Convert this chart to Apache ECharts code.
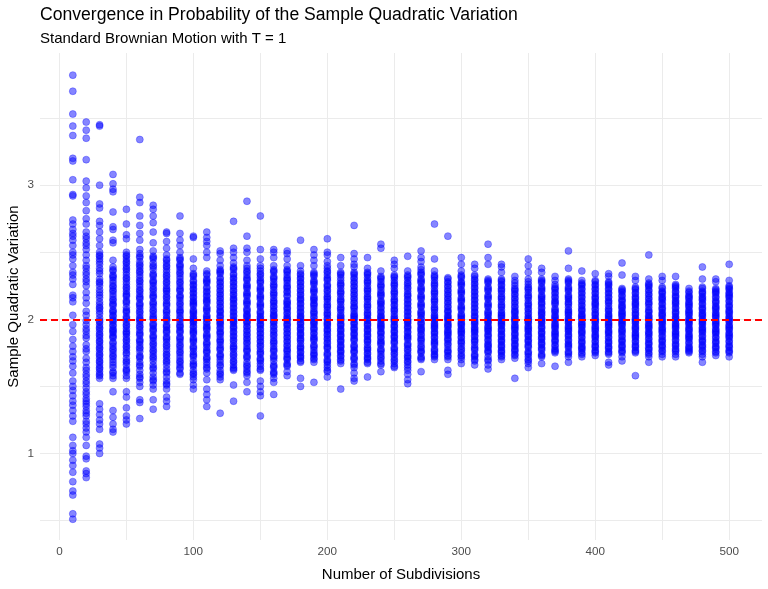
<!DOCTYPE html>
<html>
<head>
<meta charset="utf-8">
<script src="https://cdn.jsdelivr.net/npm/echarts@6/dist/echarts.min.js"></script>
<style>
  html, body { margin: 0; padding: 0; background: #fff; }
  #main { width: 768px; height: 589px; }
</style>
</head>
<body>
<div id="main"></div>
<script type="text/javascript">
    // values, one array per number of subdivisions
    var subdivisions = [10, 20, 30, 40, 50, 60, 70, 80, 90, 100, 110, 120, 130, 140, 150, 160, 170, 180, 190, 200,
        210, 220, 230, 240, 250, 260, 270, 280, 290, 300, 310, 320, 330, 340, 350, 360, 370, 380, 390, 400,
        410, 420, 430, 440, 450, 460, 470, 480, 490, 500];

    var qv10 = [3.82,3.70,3.53,3.44,3.37,3.20,3.18,3.04,2.93,2.92,2.74,2.71,2.67,2.64,2.62,2.59,2.55,2.50,2.48,2.45,2.40,2.35,2.33,2.30,2.26,2.18,2.16,2.13,2.03,1.96,1.91,1.85,1.80,1.76,1.72,1.69,1.65,1.60,1.54,1.50,1.47,1.43,1.39,1.36,1.32,1.28,1.24,1.12,1.06,1.02,1.00,0.95,0.91,0.86,0.79,0.72,0.69,0.55,0.51];
    var qv20 = [3.47,3.41,3.35,3.19,3.03,2.98,2.92,2.87,2.81,2.75,2.71,2.65,2.60,2.57,2.55,2.48,2.44,2.40,2.38,2.35,2.30,2.25,2.20,2.16,2.06,2.03,1.96,1.93,1.91,1.86,1.81,1.76,1.71,1.64,1.62,1.59,1.54,1.52,1.49,1.44,1.41,1.39,1.35,1.32,1.30,1.28,1.24,1.22,1.19,1.16,1.12,1.06,0.98,0.96,0.87,0.85,0.82,2.62,2.52,2.33,2.28,2.12,1.99,1.88,1.78,1.68,1.57,1.46,1.37];
    var qv30 = [3.45,3.44,3.00,2.86,2.83,2.73,2.70,2.65,2.60,2.55,2.50,2.48,2.45,2.43,2.38,2.34,2.30,2.28,2.25,2.22,2.20,2.16,2.13,2.11,2.08,2.06,2.01,1.98,1.96,1.93,1.91,1.88,1.86,1.83,1.81,1.78,1.76,1.73,1.71,1.68,1.66,1.63,1.61,1.58,1.56,1.37,1.33,1.29,1.25,1.22,1.18,1.07,1.04,1.00,2.47,2.41,2.36,2.27,2.18,2.09,2.04,1.99,1.94,1.89,1.84,1.79,1.74,1.69,1.64,1.59];
    var qv40 = [3.08,3.01,2.97,2.95,2.80,2.69,2.67,2.59,2.57,2.44,2.39,2.36,2.33,2.31,2.29,2.25,2.24,2.21,2.19,2.15,2.14,2.12,2.10,2.07,2.05,2.03,2.02,1.99,1.98,1.95,1.93,1.91,1.90,1.88,1.86,1.82,1.80,1.77,1.75,1.73,1.70,1.68,1.64,1.61,1.58,1.56,1.46,1.32,1.27,1.22,1.18,1.16,2.37,2.32,2.27,2.22,2.17,2.11,2.06,2.00,1.96,1.92,1.87,1.83,1.78,1.72,1.66,1.60];
    var qv50 = [2.82,2.71,2.63,2.60,2.50,2.47,2.45,2.42,2.40,2.37,2.35,2.33,2.30,2.28,2.26,2.23,2.21,2.19,2.17,2.14,2.12,2.09,2.07,2.05,2.02,2.00,1.98,1.96,1.93,1.91,1.89,1.87,1.84,1.82,1.79,1.77,1.74,1.71,1.69,1.66,1.63,1.61,1.58,1.56,1.46,1.42,1.34,1.28,1.25,1.22,2.48,2.43,2.38,2.31,2.24,2.18,2.13,2.06,2.01,1.95,1.90,1.85,1.80,1.75,1.68,1.62];
    var qv60 = [3.34,2.91,2.87,2.77,2.70,2.64,2.59,2.52,2.49,2.46,2.43,2.40,2.38,2.35,2.33,2.31,2.28,2.26,2.24,2.21,2.19,2.17,2.15,2.12,2.10,2.08,2.05,2.03,2.01,1.99,1.97,1.94,1.92,1.90,1.88,1.85,1.83,1.81,1.78,1.76,1.73,1.71,1.68,1.65,1.62,1.59,1.56,1.53,1.50,1.40,1.38,1.26,2.47,2.41,2.36,2.29,2.22,2.16,2.11,2.06,2.00,1.95,1.89,1.84,1.79,1.72,1.66,1.57];
    var qv70 = [2.85,2.82,2.77,2.72,2.65,2.57,2.51,2.47,2.45,2.42,2.39,2.37,2.34,2.32,2.29,2.27,2.25,2.22,2.20,2.18,2.16,2.13,2.11,2.09,2.06,2.04,2.02,2.00,1.97,1.95,1.93,1.91,1.88,1.86,1.84,1.81,1.79,1.76,1.74,1.71,1.69,1.66,1.63,1.60,1.57,1.54,1.51,1.48,1.40,1.33,2.46,2.40,2.33,2.28,2.23,2.17,2.12,2.07,2.01,1.96,1.92,1.87,1.82,1.77,1.72,1.64,1.55];
    var qv80 = [2.65,2.64,2.58,2.53,2.48,2.44,2.42,2.39,2.37,2.35,2.32,2.30,2.28,2.25,2.23,2.21,2.19,2.16,2.14,2.12,2.10,2.07,2.05,2.03,2.01,1.99,1.96,1.94,1.92,1.90,1.87,1.85,1.83,1.81,1.78,1.76,1.73,1.71,1.68,1.66,1.63,1.60,1.57,1.54,1.51,1.48,1.42,1.39,1.35,2.45,2.40,2.33,2.27,2.22,2.17,2.11,2.06,2.00,1.95,1.91,1.86,1.80,1.74,1.69,1.61,1.52];
    var qv90 = [2.77,2.64,2.59,2.55,2.50,2.46,2.44,2.41,2.39,2.37,2.34,2.32,2.30,2.27,2.25,2.23,2.21,2.18,2.16,2.14,2.12,2.09,2.07,2.05,2.03,2.01,1.98,1.96,1.94,1.92,1.90,1.87,1.85,1.83,1.80,1.78,1.76,1.73,1.71,1.68,1.66,1.63,1.60,1.59,2.45,2.40,2.35,2.28,2.22,2.17,2.11,2.06,2.00,1.95,1.91,1.86,1.81,1.75,1.69,1.64];
    var qv100 = [2.62,2.61,2.45,2.38,2.33,2.32,2.29,2.26,2.25,2.23,2.20,2.19,2.17,2.14,2.13,2.11,2.10,2.07,2.05,2.04,2.01,2.00,1.98,1.97,1.95,1.92,1.91,1.89,1.86,1.85,1.83,1.80,1.79,1.76,1.74,1.72,1.69,1.67,1.65,1.62,1.59,1.57,1.55,1.51,1.48,2.34,2.28,2.22,2.16,2.12,2.06,2.02,1.99,1.94,1.90,1.84,1.78,1.73,1.66,1.60];
    var qv110 = [2.65,2.61,2.58,2.55,2.50,2.46,2.36,2.33,2.30,2.28,2.27,2.24,2.21,2.20,2.18,2.15,2.14,2.12,2.09,2.08,2.06,2.03,2.02,2.00,1.98,1.95,1.94,1.92,1.89,1.88,1.86,1.83,1.82,1.79,1.77,1.75,1.72,1.71,1.68,1.66,1.63,1.60,1.55,1.48,1.44,1.40,1.35,2.34,2.29,2.23,2.17,2.13,2.07,2.01,1.97,1.93,1.87,1.81,1.76,1.70,1.64];
    var qv120 = [2.51,2.49,2.44,2.40,2.37,2.35,2.34,2.31,2.28,2.27,2.25,2.22,2.21,2.19,2.16,2.15,2.13,2.10,2.09,2.07,2.05,2.03,2.01,1.99,1.97,1.96,1.93,1.91,1.90,1.87,1.85,1.84,1.81,1.79,1.77,1.74,1.73,1.70,1.68,1.65,1.62,1.60,1.57,1.55,1.30,2.36,2.30,2.24,2.18,2.12,2.06,2.02,1.98,1.94,1.89,1.83,1.78,1.72,1.66,1.59];
    var qv130 = [2.73,2.53,2.50,2.46,2.42,2.39,2.37,2.34,2.33,2.30,2.28,2.27,2.24,2.22,2.21,2.18,2.16,2.15,2.12,2.11,2.09,2.06,2.05,2.03,2.00,1.99,1.97,1.94,1.93,1.91,1.88,1.87,1.85,1.82,1.80,1.78,1.76,1.73,1.71,1.69,1.66,1.64,1.62,1.51,1.39,2.38,2.31,2.25,2.19,2.14,2.08,2.02,1.98,1.95,1.90,1.84,1.79,1.74,1.68,1.63];
    var qv140 = [2.88,2.62,2.53,2.50,2.44,2.40,2.38,2.35,2.33,2.31,2.29,2.26,2.25,2.23,2.20,2.19,2.17,2.14,2.13,2.11,2.08,2.07,2.04,2.03,2.01,1.98,1.97,1.95,1.92,1.91,1.89,1.86,1.85,1.83,1.80,1.78,1.76,1.73,1.71,1.68,1.66,1.63,1.61,1.58,1.53,1.46,2.36,2.30,2.24,2.18,2.12,2.06,2.02,1.99,1.94,1.88,1.82,1.77,1.72,1.65,1.60];
    var qv150 = [2.77,2.52,2.45,2.40,2.38,2.36,2.33,2.31,2.29,2.27,2.24,2.23,2.21,2.18,2.17,2.15,2.12,2.11,2.09,2.06,2.05,2.02,2.01,1.99,1.96,1.95,1.93,1.90,1.89,1.87,1.84,1.83,1.81,1.78,1.76,1.74,1.71,1.70,1.67,1.65,1.62,1.54,1.50,1.46,1.43,1.28,2.34,2.28,2.22,2.16,2.10,2.04,2.00,1.97,1.92,1.86,1.80,1.75,1.69,1.63];
    var qv160 = [2.52,2.50,2.46,2.40,2.37,2.35,2.32,2.31,2.28,2.26,2.25,2.22,2.20,2.19,2.16,2.14,2.13,2.10,2.09,2.07,2.04,2.03,2.01,1.98,1.97,1.95,1.92,1.91,1.89,1.86,1.84,1.83,1.80,1.78,1.76,1.73,1.71,1.69,1.66,1.64,1.61,1.59,1.56,1.53,1.44,2.36,2.30,2.24,2.18,2.12,2.06,2.02,1.99,1.94,1.88,1.82,1.77,1.72,1.65,1.60];
    var qv170 = [2.51,2.49,2.45,2.40,2.37,2.35,2.33,2.30,2.29,2.27,2.24,2.23,2.21,2.18,2.17,2.14,2.12,2.11,2.08,2.07,2.05,2.02,2.01,1.99,1.96,1.95,1.93,1.90,1.89,1.87,1.84,1.83,1.80,1.78,1.77,1.74,1.72,1.70,1.67,1.65,1.61,1.58,2.36,2.31,2.25,2.20,2.13,2.09,2.04,2.00,1.97,1.92,1.86,1.81,1.76,1.71,1.66];
    var qv180 = [2.59,2.40,2.36,2.33,2.31,2.30,2.27,2.25,2.24,2.21,2.19,2.18,2.15,2.14,2.12,2.09,2.08,2.06,2.03,2.02,2.00,1.98,1.96,1.94,1.92,1.90,1.88,1.86,1.84,1.82,1.79,1.78,1.75,1.73,1.71,1.68,1.56,1.50,2.34,2.28,2.22,2.16,2.11,2.05,2.01,1.97,1.93,1.89,1.85,1.80,1.76,1.72,1.69];
    var qv190 = [2.52,2.48,2.44,2.40,2.35,2.33,2.32,2.29,2.27,2.26,2.23,2.21,2.20,2.17,2.15,2.14,2.11,2.10,2.08,2.05,2.04,2.02,1.99,1.98,1.96,1.93,1.92,1.90,1.87,1.86,1.84,1.81,1.80,1.77,1.75,1.73,1.70,1.68,1.53,2.34,2.28,2.22,2.16,2.12,2.06,2.01,1.97,1.94,1.89,1.85,1.79,1.74,1.71];
    var qv200 = [2.60,2.50,2.48,2.43,2.40,2.38,2.35,2.33,2.31,2.29,2.26,2.25,2.22,2.21,2.19,2.16,2.15,2.13,2.10,2.09,2.07,2.04,2.03,2.01,1.98,1.97,1.95,1.92,1.91,1.89,1.86,1.85,1.82,1.80,1.78,1.75,1.73,1.70,1.68,1.66,1.64,1.61,1.57,2.36,2.30,2.24,2.17,2.11,2.05,2.00,1.96,1.93,1.88,1.83,1.79,1.74,1.69,1.62];
    var qv210 = [2.46,2.40,2.35,2.33,2.31,2.29,2.26,2.25,2.23,2.20,2.19,2.17,2.14,2.13,2.11,2.08,2.07,2.05,2.02,2.01,1.99,1.97,1.95,1.93,1.91,1.89,1.87,1.85,1.83,1.81,1.79,1.77,1.75,1.72,1.70,1.67,1.48,2.34,2.27,2.21,2.15,2.09,2.03,2.00,1.96,1.92,1.88,1.84,1.80,1.76,1.73,1.69];
    var qv220 = [2.70,2.49,2.45,2.41,2.39,2.35,2.33,2.31,2.30,2.27,2.25,2.24,2.21,2.19,2.18,2.15,2.13,2.12,2.09,2.08,2.06,2.03,2.02,2.00,1.98,1.96,1.94,1.92,1.90,1.88,1.86,1.84,1.81,1.79,1.77,1.75,1.72,1.70,1.67,1.64,1.60,1.56,1.54,2.34,2.28,2.22,2.16,2.10,2.04,2.01,1.97,1.93,1.89,1.85,1.80,1.76,1.71,1.66];
    var qv230 = [2.46,2.38,2.35,2.33,2.31,2.28,2.27,2.25,2.22,2.21,2.19,2.16,2.15,2.13,2.10,2.09,2.07,2.04,2.03,2.01,1.99,1.97,1.95,1.93,1.91,1.89,1.87,1.85,1.83,1.81,1.78,1.77,1.74,1.72,1.70,1.67,1.57,2.34,2.29,2.23,2.17,2.11,2.05,2.00,1.96,1.92,1.88,1.84,1.79,1.75,1.71,1.68];
    var qv240 = [2.56,2.53,2.36,2.32,2.30,2.28,2.26,2.24,2.22,2.20,2.18,2.17,2.14,2.12,2.11,2.08,2.06,2.05,2.02,2.01,1.99,1.96,1.95,1.93,1.90,1.89,1.87,1.84,1.83,1.81,1.78,1.76,1.74,1.71,1.69,1.66,1.61,2.31,2.25,2.19,2.13,2.09,2.03,2.00,1.97,1.94,1.91,1.86,1.82,1.77,1.72,1.67];
    var qv250 = [2.44,2.41,2.38,2.33,2.32,2.29,2.27,2.26,2.23,2.21,2.20,2.17,2.15,2.14,2.11,2.10,2.07,2.06,2.04,2.01,2.00,1.98,1.96,1.94,1.92,1.90,1.88,1.86,1.84,1.82,1.79,1.77,1.75,1.72,1.70,1.67,1.64,2.31,2.25,2.19,2.13,2.08,2.02,1.99,1.95,1.91,1.87,1.83,1.78,1.74,1.69,1.65];
    var qv260 = [2.47,2.36,2.33,2.31,2.29,2.27,2.24,2.23,2.21,2.18,2.17,2.15,2.12,2.11,2.09,2.06,2.05,2.03,2.00,1.99,1.97,1.94,1.93,1.91,1.88,1.87,1.85,1.82,1.80,1.78,1.75,1.73,1.71,1.68,1.66,1.62,1.59,1.55,1.52,2.32,2.26,2.19,2.14,2.08,2.02,1.98,1.95,1.90,1.86,1.81,1.77,1.72,1.69,1.64];
    var qv270 = [2.51,2.46,2.43,2.39,2.37,2.34,2.33,2.30,2.28,2.27,2.24,2.22,2.21,2.18,2.16,2.15,2.12,2.10,2.09,2.06,2.04,2.03,2.00,1.98,1.97,1.94,1.92,1.91,1.88,1.86,1.85,1.82,1.80,1.77,1.75,1.72,1.70,1.61,2.35,2.29,2.23,2.17,2.11,2.05,2.01,1.96,1.93,1.89,1.84,1.79,1.76,1.71];
    var qv280 = [2.71,2.45,2.36,2.33,2.31,2.29,2.26,2.25,2.23,2.20,2.19,2.17,2.14,2.13,2.11,2.08,2.07,2.05,2.02,2.01,1.99,1.96,1.95,1.93,1.90,1.89,1.87,1.84,1.83,1.81,1.78,1.76,1.74,1.72,1.70,2.32,2.27,2.21,2.15,2.09,2.03,2.00,1.97,1.94,1.91,1.86,1.82,1.77,1.73];
    var qv290 = [2.62,2.31,2.30,2.27,2.25,2.24,2.21,2.19,2.18,2.15,2.13,2.12,2.09,2.07,2.06,2.03,2.01,2.00,1.97,1.96,1.94,1.91,1.90,1.88,1.85,1.84,1.82,1.79,1.77,1.75,1.72,1.70,1.62,1.59,2.28,2.22,2.16,2.10,2.05,2.02,1.99,1.95,1.92,1.89,1.86,1.81,1.76,1.73];
    var qv300 = [2.46,2.41,2.36,2.32,2.31,2.28,2.26,2.25,2.22,2.20,2.19,2.16,2.14,2.13,2.10,2.08,2.07,2.04,2.02,2.01,1.98,1.96,1.95,1.92,1.90,1.89,1.86,1.84,1.83,1.80,1.78,1.75,1.73,1.70,1.67,2.33,2.27,2.21,2.15,2.09,2.03,2.00,1.97,1.93,1.91,1.87,1.82,1.77,1.72];
    var qv310 = [2.41,2.38,2.33,2.32,2.29,2.27,2.26,2.23,2.21,2.20,2.17,2.15,2.14,2.11,2.09,2.08,2.05,2.03,2.02,1.99,1.97,1.96,1.93,1.91,1.90,1.87,1.85,1.84,1.81,1.79,1.77,1.74,1.72,1.70,1.66,2.30,2.24,2.18,2.12,2.06,2.01,1.98,1.94,1.92,1.88,1.83,1.78,1.73,1.69];
    var qv320 = [2.56,2.46,2.41,2.30,2.28,2.27,2.24,2.22,2.21,2.18,2.16,2.15,2.12,2.10,2.09,2.06,2.04,2.03,2.00,1.99,1.97,1.94,1.93,1.91,1.88,1.87,1.85,1.82,1.81,1.79,1.77,1.75,1.72,1.69,1.66,1.63,2.29,2.23,2.17,2.11,2.05,2.01,1.98,1.95,1.92,1.89,1.84,1.80,1.76,1.70];
    var qv330 = [2.41,2.39,2.35,2.30,2.28,2.26,2.25,2.22,2.21,2.19,2.16,2.15,2.13,2.10,2.09,2.07,2.04,2.03,2.01,1.99,1.97,1.95,1.93,1.91,1.89,1.87,1.85,1.83,1.81,1.79,1.77,1.75,1.73,1.70,2.29,2.23,2.17,2.11,2.05,2.02,1.98,1.96,1.92,1.88,1.84,1.80,1.76,1.72];
    var qv340 = [2.32,2.29,2.25,2.23,2.22,2.19,2.18,2.16,2.13,2.12,2.10,2.07,2.06,2.04,2.01,2.00,1.98,1.96,1.94,1.92,1.90,1.88,1.86,1.84,1.82,1.80,1.78,1.76,1.74,1.71,1.56,2.27,2.21,2.15,2.09,2.05,2.02,1.99,1.95,1.93,1.89,1.85,1.81,1.77,1.73];
    var qv350 = [2.45,2.40,2.35,2.30,2.26,2.24,2.23,2.20,2.18,2.17,2.14,2.12,2.11,2.08,2.07,2.05,2.02,2.01,1.99,1.97,1.95,1.93,1.91,1.89,1.87,1.85,1.83,1.81,1.79,1.76,1.74,1.72,1.70,1.67,1.64,2.28,2.22,2.16,2.10,2.04,2.00,1.98,1.94,1.92,1.88,1.84,1.80,1.75,1.69];
    var qv360 = [2.38,2.35,2.30,2.28,2.27,2.24,2.22,2.21,2.18,2.16,2.15,2.12,2.11,2.09,2.06,2.05,2.03,2.00,1.99,1.97,1.95,1.93,1.91,1.89,1.87,1.85,1.83,1.81,1.79,1.77,1.74,1.72,1.67,2.29,2.23,2.17,2.13,2.08,2.04,2.01,1.98,1.94,1.90,1.86,1.82,1.78,1.73];
    var qv370 = [2.32,2.29,2.24,2.23,2.20,2.19,2.17,2.14,2.13,2.11,2.08,2.07,2.05,2.02,2.01,1.99,1.96,1.95,1.93,1.90,1.89,1.87,1.84,1.83,1.81,1.78,1.77,1.75,1.65,2.26,2.22,2.16,2.12,2.06,2.03,2.00,1.97,1.94,1.91,1.88,1.85,1.80,1.76];
    var qv380 = [2.51,2.38,2.30,2.28,2.27,2.24,2.22,2.21,2.18,2.16,2.15,2.12,2.11,2.09,2.06,2.05,2.03,2.00,1.99,1.97,1.94,1.93,1.91,1.88,1.87,1.85,1.82,1.81,1.79,1.76,1.74,1.72,1.68,2.29,2.23,2.17,2.13,2.07,2.04,2.01,1.98,1.95,1.92,1.89,1.84,1.80,1.75];
    var qv390 = [2.36,2.29,2.26,2.25,2.22,2.20,2.19,2.16,2.14,2.13,2.10,2.08,2.07,2.04,2.02,2.01,1.98,1.96,1.95,1.92,1.90,1.89,1.86,1.84,1.83,1.80,1.78,1.77,1.74,1.72,2.27,2.23,2.17,2.11,2.06,2.03,2.00,1.97,1.94,1.91,1.87,1.82,1.79,1.75];
    var qv400 = [2.34,2.29,2.28,2.25,2.23,2.22,2.19,2.17,2.16,2.13,2.11,2.10,2.07,2.05,2.04,2.01,1.99,1.98,1.95,1.93,1.92,1.89,1.87,1.86,1.83,1.81,1.80,1.77,1.75,1.73,2.26,2.20,2.15,2.12,2.08,2.03,2.00,1.97,1.94,1.91,1.88,1.84,1.79,1.76];
    var qv410 = [2.34,2.32,2.28,2.26,2.25,2.22,2.20,2.19,2.16,2.14,2.13,2.10,2.08,2.07,2.04,2.02,2.01,1.98,1.96,1.95,1.92,1.90,1.89,1.86,1.84,1.83,1.80,1.78,1.76,1.74,1.68,1.66,2.27,2.23,2.17,2.12,2.06,2.03,2.00,1.97,1.94,1.91,1.87,1.82,1.79,1.75];
    var qv420 = [2.42,2.33,2.23,2.21,2.20,2.17,2.15,2.14,2.11,2.09,2.08,2.05,2.03,2.02,1.99,1.97,1.96,1.93,1.91,1.90,1.87,1.85,1.84,1.81,1.79,1.77,1.75,1.72,1.69,2.22,2.18,2.13,2.10,2.06,2.04,2.00,1.98,1.95,1.92,1.88,1.83,1.80,1.76];
    var qv430 = [2.32,2.29,2.23,2.22,2.19,2.17,2.16,2.13,2.11,2.10,2.07,2.05,2.04,2.01,1.99,1.98,1.95,1.93,1.92,1.89,1.87,1.86,1.83,1.81,1.80,1.77,1.75,1.58,2.24,2.20,2.15,2.12,2.08,2.03,2.00,1.97,1.94,1.90,1.88,1.84,1.79,1.76];
    var qv440 = [2.48,2.30,2.27,2.25,2.24,2.21,2.19,2.18,2.15,2.13,2.12,2.09,2.07,2.06,2.03,2.01,2.00,1.97,1.95,1.94,1.91,1.89,1.88,1.85,1.83,1.82,1.79,1.77,1.75,1.72,1.68,2.26,2.22,2.16,2.11,2.05,2.02,1.99,1.96,1.93,1.90,1.86,1.81,1.78,1.74];
    var qv450 = [2.32,2.29,2.23,2.21,2.20,2.17,2.15,2.14,2.11,2.09,2.08,2.05,2.03,2.02,1.99,1.97,1.96,1.93,1.91,1.90,1.87,1.85,1.83,1.81,1.79,1.77,1.74,1.72,2.24,2.19,2.16,2.12,2.07,2.04,2.00,1.98,1.94,1.92,1.88,1.84,1.80,1.76];
    var qv460 = [2.32,2.26,2.24,2.23,2.20,2.18,2.17,2.14,2.12,2.11,2.08,2.06,2.05,2.02,2.00,1.99,1.96,1.94,1.93,1.90,1.88,1.87,1.84,1.82,1.81,1.78,1.76,1.74,1.72,2.25,2.21,2.16,2.13,2.09,2.04,2.01,1.97,1.95,1.91,1.89,1.85,1.80,1.77];
    var qv470 = [2.23,2.20,2.18,2.16,2.15,2.12,2.10,2.09,2.06,2.04,2.03,2.00,1.98,1.97,1.94,1.92,1.91,1.88,1.86,1.85,1.82,1.80,1.78,1.77,1.75,2.21,2.17,2.13,2.11,2.07,2.05,2.01,1.99,1.96,1.93,1.89,1.87,1.83,1.79,1.76];
    var qv480 = [2.39,2.30,2.23,2.21,2.20,2.17,2.15,2.14,2.11,2.09,2.08,2.05,2.03,2.02,1.99,1.97,1.96,1.93,1.91,1.90,1.87,1.85,1.84,1.81,1.79,1.77,1.74,1.72,1.68,2.24,2.19,2.16,2.12,2.07,2.04,2.00,1.98,1.94,1.92,1.88,1.83,1.80,1.76];
    var qv490 = [2.30,2.28,2.22,2.20,2.19,2.16,2.14,2.13,2.10,2.08,2.07,2.04,2.02,2.01,1.98,1.96,1.95,1.92,1.90,1.89,1.86,1.84,1.82,1.80,1.78,1.76,1.73,2.23,2.21,2.17,2.12,2.09,2.05,2.03,1.99,1.97,1.93,1.91,1.87,1.83,1.79,1.75];
    var qv500 = [2.41,2.29,2.25,2.23,2.22,2.19,2.17,2.16,2.13,2.11,2.10,2.07,2.05,2.04,2.01,1.99,1.98,1.95,1.93,1.92,1.89,1.87,1.86,1.83,1.81,1.79,1.77,1.75,1.72,2.24,2.20,2.18,2.14,2.09,2.06,2.02,2.00,1.96,1.94,1.90,1.88,1.84,1.80,1.76];

    var columns = [qv10, qv20, qv30, qv40, qv50, qv60, qv70, qv80, qv90, qv100,
        qv110, qv120, qv130, qv140, qv150, qv160, qv170, qv180, qv190, qv200,
        qv210, qv220, qv230, qv240, qv250, qv260, qv270, qv280, qv290, qv300,
        qv310, qv320, qv330, qv340, qv350, qv360, qv370, qv380, qv390, qv400,
        qv410, qv420, qv430, qv440, qv450, qv460, qv470, qv480, qv490, qv500];

    var trueValue = 2;
    var xLabels = [0, 100, 200, 300, 400, 500];
    var xGrid = [0, 50, 100, 150, 200, 250, 300, 350, 400, 450, 500];
    var yLabels = [1, 2, 3];
    var yGrid = [0.5, 1, 1.5, 2, 2.5, 3, 3.5];

    var points = [];
    for (var i = 0; i < subdivisions.length; i++) {
        for (var j = 0; j < columns[i].length; j++) {
            points.push([subdivisions[i], columns[i][j]]);
        }
    }

    var font = 'Liberation Sans, Arial, sans-serif';
    var chart = echarts.init(document.getElementById('main'));
    var option = {
        animation: false,
        textStyle: {fontFamily: font},
        title: [{
            text: 'Convergence in Probability of the Sample Quadratic Variation',
            left: 40,
            top: 6,
            padding: 0,
            textStyle: {fontSize: 17.6, fontWeight: 'normal', color: '#000', fontFamily: font}
        }, {
            text: 'Standard Brownian Motion with T = 1',
            left: 40,
            top: 31,
            padding: 0,
            textStyle: {fontSize: 15, fontWeight: 'normal', color: '#000', fontFamily: font}
        }],
        grid: {left: 40, right: 6, top: 53, bottom: 49, outerBoundsMode: 'none'},
        xAxis: {
            type: 'value',
            min: -14.5,
            max: 524.5,
            name: 'Number of Subdivisions',
            nameLocation: 'middle',
            nameGap: 27,
            nameTextStyle: {fontSize: 15, color: '#000'},
            axisLine: {show: false},
            axisTick: {show: false, customValues: xGrid},
            axisLabel: {customValues: xLabels, color: '#4d4d4d', fontSize: 11.7, margin: 6},
            splitLine: {show: true, lineStyle: {color: '#ebebeb', width: 1}}
        },
        yAxis: {
            type: 'value',
            min: 0.355,
            max: 3.985,
            name: 'Sample Quadratic Variation',
            nameLocation: 'middle',
            nameGap: 19,
            nameMoveOverlap: false,
            nameTextStyle: {fontSize: 15, color: '#000'},
            axisLine: {show: false},
            axisTick: {show: false, customValues: yGrid},
            axisLabel: {customValues: yLabels, color: '#4d4d4d', fontSize: 11.7, margin: 6},
            splitLine: {show: true, lineStyle: {color: '#ebebeb', width: 1}}
        },
        series: [{
            type: 'scatter',
            data: points,
            symbolSize: 7,
            itemStyle: {color: 'rgba(0,0,255,0.6)', borderColor: 'rgba(0,0,255,0.4)', borderWidth: 1},
            z: 2
        }, {
            type: 'line',
            data: [],
            z: 5,
            markLine: {
                silent: true,
                symbol: ['none', 'none'],
                label: {show: false},
                lineStyle: {color: '#ff0000', width: 2, type: [7, 4]},
                data: [{yAxis: trueValue}]
            }
        }]
    };
    chart.setOption(option);
</script>
</body>
</html>
